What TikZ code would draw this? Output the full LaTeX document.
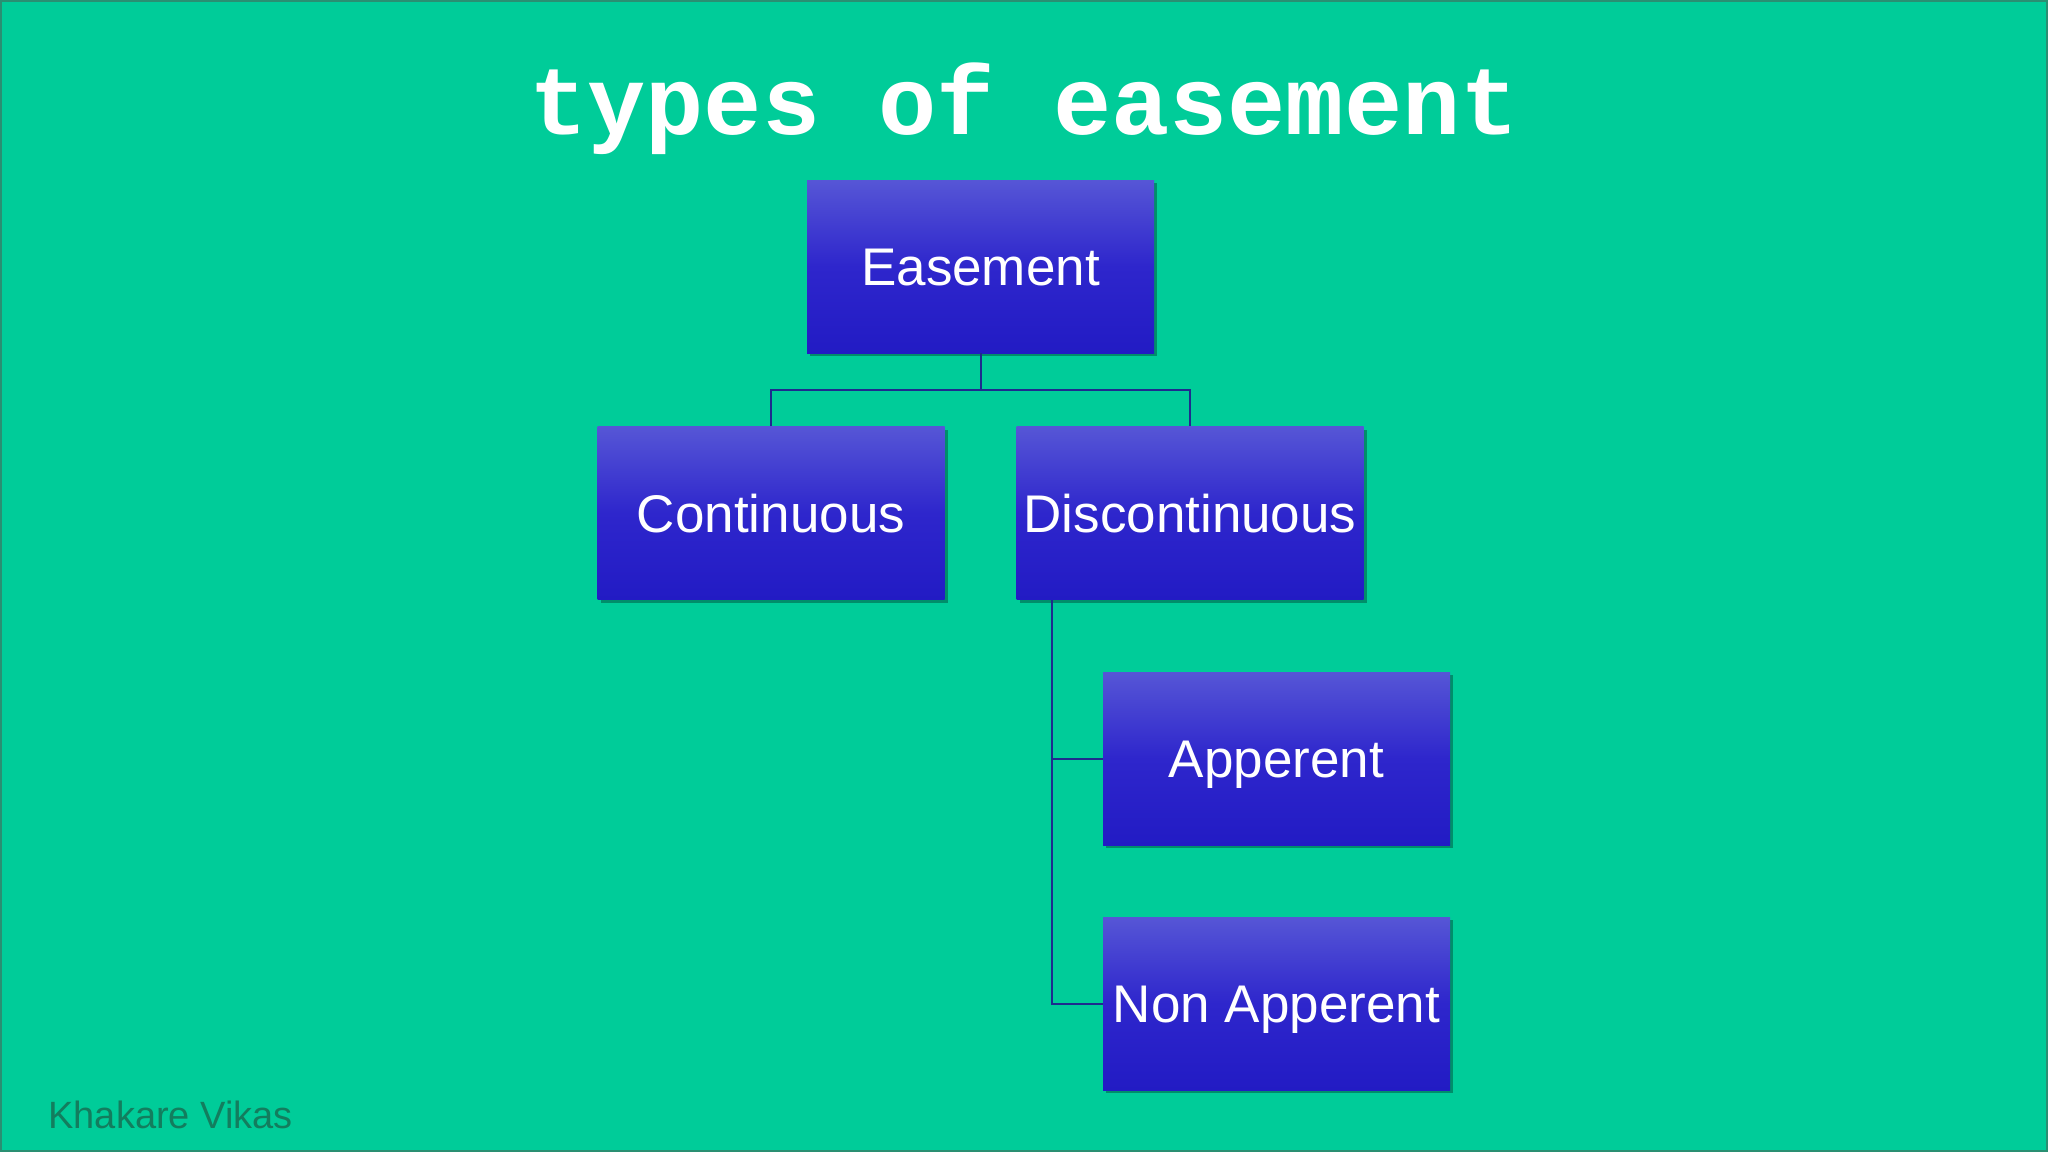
\documentclass[tikz,border=0pt]{standalone}
\usepackage{fontspec}
\setmainfont{Liberation Sans}
\newfontfamily\titlefont{Liberation Mono}
\usetikzlibrary{shadows}
\definecolor{bgc}{HTML}{00CC99}
\definecolor{edgec}{HTML}{2A8F72}
\definecolor{boxtop}{HTML}{5656D6}
\definecolor{boxmid}{HTML}{2E26CC}
\definecolor{boxbot}{HTML}{221BC4}
\definecolor{connc}{HTML}{1E2B8E}
\definecolor{authc}{HTML}{137D5E}
\tikzset{
  orgbox/.style={rectangle, minimum width=173.5pt, minimum height=86.5pt, inner sep=0pt,
    top color=boxtop, bottom color=boxbot, middle color=boxmid,
    text=white, font=\fontsize{26.5pt}{30pt}\selectfont,
    text height=19pt, text depth=0pt,
    drop shadow={shadow xshift=1.5pt, shadow yshift=-1.5pt, opacity=0.3, fill=black}},
  conn/.style={draw=connc, line width=1pt}
}
\begin{document}
\begin{tikzpicture}[x=0.5pt,y=-0.5pt]
\fill[bgc] (0,0) rectangle (2048,1152);
\draw[edgec, line width=0.8pt] (0.8,0.8) rectangle (2047.2,1151.2);
\useasboundingbox (0,0) rectangle (2048,1152);

\node[anchor=base, text=white, font=\titlefont\bfseries\fontsize{48.5pt}{54pt}\selectfont] (title) at (1024,134) {types of easement};

\node[orgbox] (e) at (980.5,266.5) {Easement};
\node[orgbox] (c) at (771,513) {Continuous};
\node[orgbox] (d) at (1190,513) {Discontinuous};
\node[orgbox] (a) at (1276.5,758.5) {Apperent};
\node[orgbox] (n) at (1276.5,1003.5) {Non Apperent};

\coordinate (bus) at (980.5,390);
\coordinate (sp) at (1052,600);

\draw[conn] (e.south) -- (bus);
\draw[conn] (c.north) |- (bus) -| (d.north);
\draw[conn] (sp) |- (n.west);
\draw[conn] (sp |- a.west) -- (a.west);

\node[anchor=base west, text=authc, font=\fontsize{19pt}{22pt}\selectfont, inner sep=0pt] (auth) at (48,1128) {Khakare Vikas};
\end{tikzpicture}
\end{document}
